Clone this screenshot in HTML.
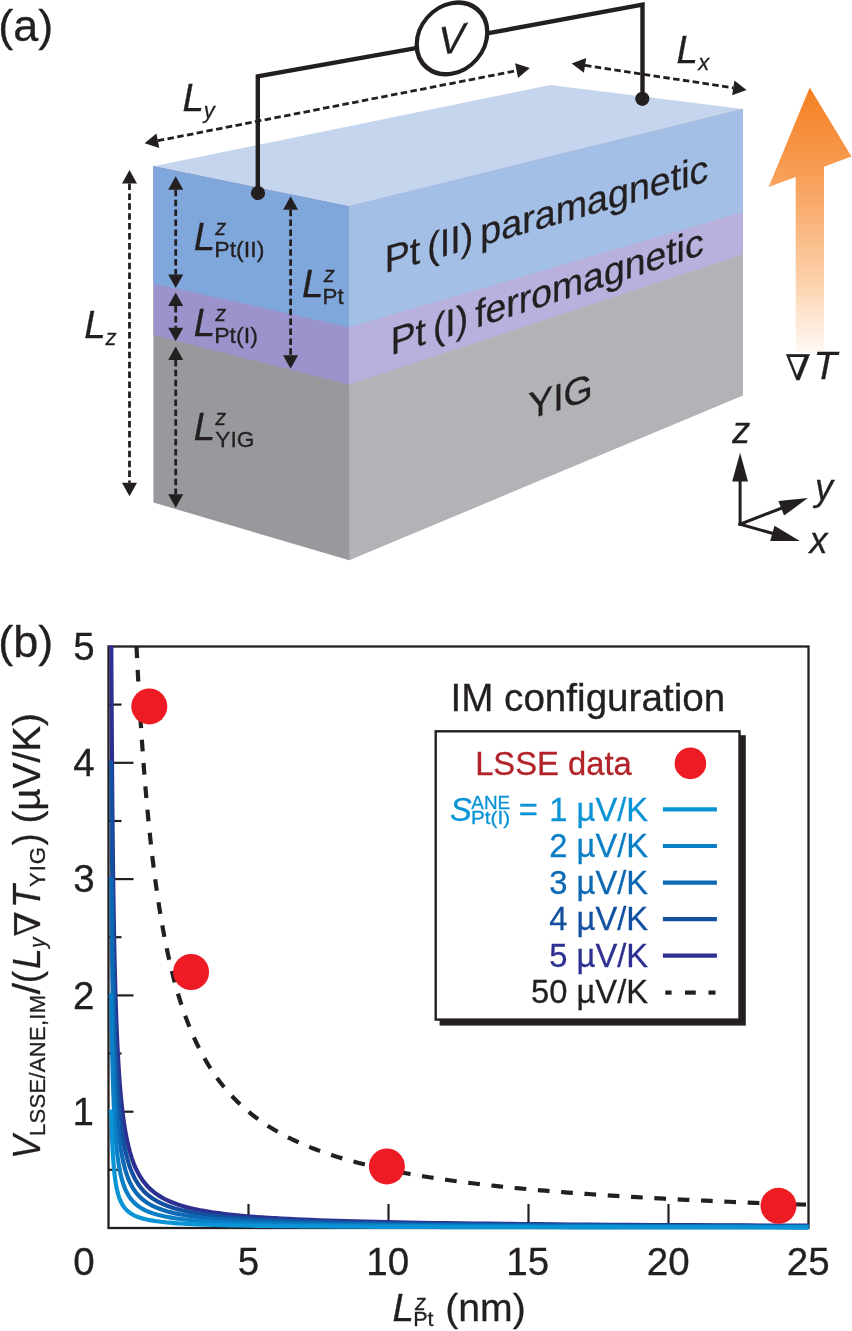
<!DOCTYPE html>
<html><head><meta charset="utf-8"><title>Figure</title>
<style>html,body{margin:0;padding:0;background:#fff}svg{display:block}text{stroke:#231f20;stroke-width:.3px}</style></head>
<body>
<svg width="852" height="1331" viewBox="0 0 852 1331" font-family="Liberation Sans, sans-serif" fill="#231f20">
<defs><linearGradient id="og" x1="0" y1="87" x2="0" y2="352" gradientUnits="userSpaceOnUse"><stop offset="0" stop-color="#f47f20"/><stop offset="0.35" stop-color="#f8a05a"/><stop offset="0.72" stop-color="#fccfa8"/><stop offset="1" stop-color="#fffaf6"/></linearGradient><clipPath id="pc"><rect x="108.5" y="645.5" width="702" height="586"/></clipPath></defs>
<rect width="852" height="1331" fill="#fff"/>
<polygon points="153.4,166.3 550.2,85.0 743.0,108.9 743.0,109.9 349.0,207.3 153.4,167.3" fill="#c5d5ee" />
<polygon points="153.4,166.3 349.8,206.5 350.1,560.0 349.3,560.3 153.4,502.5" fill="#98999c" />
<polygon points="153.4,166.3 349.8,206.5 349.8,384.3 349.0,384.5 153.4,335.0" fill="#9b94cc" />
<polygon points="153.4,166.3 349.8,206.5 349.8,327.0 349.0,327.2 153.4,283.4" fill="#7fa7db" />
<polygon points="349.0,206.3 743.0,108.9 743.0,395.5 349.3,560.3" fill="#b2b3b6" />
<polygon points="349.0,206.3 743.0,108.9 743.0,254.6 349.0,384.5" fill="#b8b1dd" />
<polygon points="349.0,206.3 743.0,108.9 743.0,212.0 349.0,327.2" fill="#a4bfe5" />
<path d="M257.8,193 L257.8,76.3 L416,48.2" fill="none" stroke="#231f20" stroke-width="4.4" stroke-linejoin="miter"/>
<path d="M642.5,98.6 L642.5,4.6 L488.5,33.2" fill="none" stroke="#231f20" stroke-width="4.4" stroke-linejoin="miter"/>
<circle cx="258" cy="193" r="7.1"/>
<circle cx="642.3" cy="98.8" r="7.1"/>
<g transform="translate(452,38.4) skewY(-10)"><circle r="35.3" fill="#fff" stroke="#231f20" stroke-width="4.3"/><text x="-0.3" y="14.6" font-size="40" font-style="italic" text-anchor="middle">V</text></g>
<polygon points="529.8,68.1 518.0,78.0 515.1,63.3" fill="#231f20" />
<polygon points="144.6,143.3 156.4,133.4 159.3,148.1" fill="#231f20" />
<line x1="157.8" y1="140.7" x2="516.6" y2="70.7" stroke="#231f20" stroke-width="2.8" stroke-dasharray="6.5 3.4"/>
<polygon points="746.6,89.9 732.1,95.3 734.4,80.5" fill="#231f20" />
<polygon points="571.7,63.4 586.2,58.0 583.9,72.8" fill="#231f20" />
<line x1="585.0" y1="65.4" x2="733.3" y2="87.9" stroke="#231f20" stroke-width="2.8" stroke-dasharray="6.5 3.4"/>
<polygon points="129.5,496.2 122.0,482.7 137.0,482.7" fill="#231f20" />
<polygon points="129.5,170.0 137.0,183.5 122.0,183.5" fill="#231f20" />
<line x1="129.5" y1="183.5" x2="129.5" y2="482.7" stroke="#231f20" stroke-width="2.8" stroke-dasharray="6.5 3.4"/>
<polygon points="175.7,288.0 168.2,274.5 183.2,274.5" fill="#231f20" />
<polygon points="175.7,176.3 183.2,189.8 168.2,189.8" fill="#231f20" />
<line x1="175.7" y1="189.8" x2="175.7" y2="274.5" stroke="#231f20" stroke-width="2.8" stroke-dasharray="6.5 3.4"/>
<polygon points="175.7,341.3 168.2,327.8 183.2,327.8" fill="#231f20" />
<polygon points="175.7,292.5 183.2,306.0 168.2,306.0" fill="#231f20" />
<line x1="175.7" y1="306.0" x2="175.7" y2="327.8" stroke="#231f20" stroke-width="2.8" stroke-dasharray="6.5 3.4"/>
<polygon points="175.7,507.7 168.2,494.2 183.2,494.2" fill="#231f20" />
<polygon points="175.7,346.4 183.2,359.9 168.2,359.9" fill="#231f20" />
<line x1="175.7" y1="359.9" x2="175.7" y2="494.2" stroke="#231f20" stroke-width="2.8" stroke-dasharray="6.5 3.4"/>
<polygon points="290.6,368.7 283.1,355.2 298.1,355.2" fill="#231f20" />
<polygon points="290.6,196.2 298.1,209.7 283.1,209.7" fill="#231f20" />
<line x1="290.6" y1="209.7" x2="290.6" y2="355.2" stroke="#231f20" stroke-width="2.8" stroke-dasharray="6.5 3.4"/>
<text x="-1.65" y="41.30" font-size="45">(a)</text>
<text x="-1.65" y="656.60" font-size="45">(b)</text>
<text x="193.65" y="249.90" font-size="38.5" font-style="italic">L</text>
<text x="215.30" y="234.80" font-size="22" font-style="italic">z</text>
<text transform="translate(214.15,257.10) scale(1.0562,1)" font-size="22">Pt(II)</text>
<text x="193.65" y="335.70" font-size="38.5" font-style="italic">L</text>
<text x="215.30" y="320.60" font-size="22" font-style="italic">z</text>
<text transform="translate(214.15,342.90) scale(1.0545,1)" font-size="22">Pt(I)</text>
<text x="193.65" y="439.60" font-size="38.5" font-style="italic">L</text>
<text x="215.30" y="424.50" font-size="22" font-style="italic">z</text>
<text transform="translate(215.22,446.80) scale(1.0366,1)" font-size="22">YIG</text>
<text x="302.05" y="297.20" font-size="38.5" font-style="italic">L</text>
<text x="323.70" y="282.10" font-size="22" font-style="italic">z</text>
<text transform="translate(322.62,304.40) scale(1.0158,1)" font-size="22">Pt</text>
<text x="182.55" y="110.50" font-size="38.5" font-style="italic">L</text>
<text x="203.75" y="117.60" font-size="22" font-style="italic">y</text>
<text x="676.45" y="63.40" font-size="38.5" font-style="italic">L</text>
<text x="698.35" y="70.40" font-size="22" font-style="italic">x</text>
<text x="84.25" y="338.10" font-size="38.5" font-style="italic">L</text>
<text x="105.50" y="345.10" font-size="22" font-style="italic">z</text>
<g transform="translate(387.9,272.3) skewY(-15.9)">
<text transform="translate(-3.18,0.00) scale(0.9781,1)" font-size="38.5" word-spacing="-3.5">Pt (II) paramagnetic</text>
</g>
<g transform="translate(393.8,354.3) skewY(-17.9)">
<text transform="translate(-3.16,0.00) scale(0.9709,1)" font-size="38.5" word-spacing="-3.5">Pt (I) ferromagnetic</text>
</g>
<g transform="translate(529.1,419.5) skewY(-17.5)">
<text transform="translate(-0.99,0.00) scale(0.9886,1)" font-size="38">YIG</text>
</g>
<polygon points="809.7,87.6 851.5,156.6 824.0,166.7 824.0,352.0 795.7,352.0 795.7,177.0 768.7,186.9" fill="url(#og)" />
<text transform="translate(785.16,379.50) scale(1.0356,1)" font-size="35.5" font-family="DejaVu Serif, serif">∇</text>
<text x="813.40" y="378.90" font-size="38.5" font-style="italic">T</text>
<polygon points="740.1,452.8 748.0,481.4 732.2,481.4" fill="#231f20" />
<line x1="740.1" y1="524.2" x2="740.1" y2="481.4" stroke="#231f20" stroke-width="3" stroke-linecap="square"/>
<polygon points="807.9,498.0 784.1,515.6 778.4,501.0" fill="#231f20" />
<line x1="740.1" y1="524.2" x2="781.2" y2="508.3" stroke="#231f20" stroke-width="3" stroke-linecap="square"/>
<polygon points="799.9,541.1 770.2,540.9 774.5,525.8" fill="#231f20" />
<line x1="740.1" y1="524.2" x2="772.4" y2="533.3" stroke="#231f20" stroke-width="3" stroke-linecap="square"/>
<text x="732.25" y="443.40" font-size="36" font-style="italic">z</text>
<text x="815.00" y="500.00" font-size="36" font-style="italic">y</text>
<text x="809.45" y="552.60" font-size="36" font-style="italic">x</text>
<rect x="108.5" y="646.5" width="700.0" height="581.5" fill="none" stroke="#231f20" stroke-width="2.3"/>
<line x1="108.5" y1="1169.8" x2="121.5" y2="1169.8" stroke="#231f20" stroke-width="2.2"/>
<line x1="108.5" y1="1111.7" x2="133.5" y2="1111.7" stroke="#231f20" stroke-width="2.2"/>
<line x1="108.5" y1="1053.5" x2="121.5" y2="1053.5" stroke="#231f20" stroke-width="2.2"/>
<line x1="108.5" y1="995.4" x2="133.5" y2="995.4" stroke="#231f20" stroke-width="2.2"/>
<line x1="108.5" y1="937.2" x2="121.5" y2="937.2" stroke="#231f20" stroke-width="2.2"/>
<line x1="108.5" y1="879.1" x2="133.5" y2="879.1" stroke="#231f20" stroke-width="2.2"/>
<line x1="108.5" y1="821.0" x2="121.5" y2="821.0" stroke="#231f20" stroke-width="2.2"/>
<line x1="108.5" y1="762.8" x2="133.5" y2="762.8" stroke="#231f20" stroke-width="2.2"/>
<line x1="108.5" y1="704.6" x2="121.5" y2="704.6" stroke="#231f20" stroke-width="2.2"/>
<line x1="248.5" y1="1228.0" x2="248.5" y2="1204.0" stroke="#231f20" stroke-width="2.2"/>
<line x1="388.5" y1="1228.0" x2="388.5" y2="1204.0" stroke="#231f20" stroke-width="2.2"/>
<line x1="528.5" y1="1228.0" x2="528.5" y2="1204.0" stroke="#231f20" stroke-width="2.2"/>
<line x1="668.5" y1="1228.0" x2="668.5" y2="1204.0" stroke="#231f20" stroke-width="2.2"/>
<text x="72.55" y="1125.00" font-size="38.5">1</text>
<text x="73.05" y="1008.70" font-size="38.5">2</text>
<text x="73.17" y="892.40" font-size="38.5">3</text>
<text x="73.17" y="776.10" font-size="38.5">4</text>
<text x="73.17" y="659.80" font-size="38.5">5</text>
<text x="73.25" y="1274.60" font-size="38.5">0</text>
<text x="237.78" y="1274.60" font-size="38.5">5</text>
<text x="366.27" y="1274.60" font-size="38.5">10</text>
<text x="506.27" y="1274.60" font-size="38.5">15</text>
<text x="646.77" y="1274.60" font-size="38.5">20</text>
<text x="786.77" y="1274.60" font-size="38.5">25</text>
<g clip-path="url(#pc)" fill="none" stroke-linejoin="round">
<polyline points="108.50,646.50 111.30,646.50 111.47,679.42 111.64,709.91 111.82,738.23 112.01,764.58 112.21,789.13 112.41,812.04 112.63,833.47 112.85,853.53 113.08,872.34 113.32,889.99 113.57,906.58 113.82,922.20 114.09,936.90 114.37,950.77 114.66,963.85 114.97,976.21 115.28,987.89 115.61,998.95 115.95,1009.41 116.30,1019.33 116.67,1028.73 117.05,1037.65 117.45,1046.11 117.87,1054.16 118.30,1061.80 118.74,1069.06 119.21,1075.98 119.69,1082.55 120.20,1088.82 120.72,1094.78 121.27,1100.47 121.83,1105.89 122.42,1111.06 123.04,1115.99 123.67,1120.70 124.34,1125.19 125.03,1129.48 125.74,1133.57 126.49,1137.49 127.26,1141.23 128.07,1144.80 128.91,1148.22 129.78,1151.49 130.69,1154.62 131.63,1157.62 132.61,1160.48 133.63,1163.22 134.70,1165.85 135.80,1168.36 136.95,1170.77 138.14,1173.07 139.38,1175.28 140.68,1177.40 142.02,1179.42 143.41,1181.37 144.87,1183.23 146.38,1185.01 147.95,1186.73 149.58,1188.37 151.28,1189.94 153.05,1191.45 154.89,1192.90 156.80,1194.29 158.79,1195.62 160.85,1196.90 163.00,1198.13 165.24,1199.30 167.57,1200.43 169.99,1201.52 172.50,1202.56 175.12,1203.56 177.84,1204.52 180.67,1205.44 183.61,1206.32 186.67,1207.17 189.85,1207.99 193.16,1208.77 196.61,1209.52 200.19,1210.24 203.91,1210.93 207.78,1211.60 211.81,1212.24 216.00,1212.85 220.35,1213.44 224.88,1214.01 229.59,1214.55 234.49,1215.08 239.59,1215.58 244.89,1216.06 250.40,1216.53 256.13,1216.97 262.09,1217.40 268.29,1217.81 274.74,1218.21 281.45,1218.59 288.42,1218.95 295.67,1219.30 303.22,1219.64 311.06,1219.96 319.22,1220.27 327.71,1220.57 336.53,1220.86 345.71,1221.14 355.25,1221.40 365.18,1221.66 375.50,1221.90 386.24,1222.14 397.40,1222.36 409.01,1222.58 421.09,1222.79 433.65,1222.99 446.71,1223.19 460.30,1223.37 474.42,1223.55 489.12,1223.72 504.40,1223.89 520.29,1224.05 536.82,1224.20 554.01,1224.35 571.88,1224.49 590.47,1224.62 609.81,1224.75 629.92,1224.88 650.83,1225.00 672.58,1225.11 695.20,1225.22 718.72,1225.33 743.19,1225.43 768.63,1225.53 795.09,1225.63 808.50,1225.67" stroke="#2e3091" stroke-width="4.2"/>
<polyline points="108.50,762.80 111.30,762.80 111.47,789.13 111.64,813.53 111.82,836.19 112.01,857.26 112.21,876.90 112.41,895.23 112.63,912.37 112.85,928.42 113.08,943.47 113.32,957.59 113.57,970.87 113.82,983.36 114.09,995.12 114.37,1006.21 114.66,1016.68 114.97,1026.57 115.28,1035.92 115.61,1044.76 115.95,1053.13 116.30,1061.06 116.67,1068.58 117.05,1075.72 117.45,1082.49 117.87,1088.92 118.30,1095.04 118.74,1100.85 119.21,1106.38 119.69,1111.64 120.20,1116.65 120.72,1121.43 121.27,1125.98 121.83,1130.31 122.42,1134.45 123.04,1138.39 123.67,1142.16 124.34,1145.75 125.03,1149.18 125.74,1152.46 126.49,1155.59 127.26,1158.58 128.07,1161.44 128.91,1164.18 129.78,1166.80 130.69,1169.30 131.63,1171.69 132.61,1173.98 133.63,1176.18 134.70,1178.28 135.80,1180.29 136.95,1182.21 138.14,1184.06 139.38,1185.82 140.68,1187.52 142.02,1189.14 143.41,1190.69 144.87,1192.18 146.38,1193.61 147.95,1194.98 149.58,1196.29 151.28,1197.55 153.05,1198.76 154.89,1199.92 156.80,1201.03 158.79,1202.10 160.85,1203.12 163.00,1204.10 165.24,1205.04 167.57,1205.95 169.99,1206.82 172.50,1207.65 175.12,1208.45 177.84,1209.21 180.67,1209.95 183.61,1210.66 186.67,1211.34 189.85,1211.99 193.16,1212.61 196.61,1213.22 200.19,1213.79 203.91,1214.35 207.78,1214.88 211.81,1215.39 216.00,1215.88 220.35,1216.35 224.88,1216.81 229.59,1217.24 234.49,1217.66 239.59,1218.06 244.89,1218.45 250.40,1218.82 256.13,1219.18 262.09,1219.52 268.29,1219.85 274.74,1220.16 281.45,1220.47 288.42,1220.76 295.67,1221.04 303.22,1221.31 311.06,1221.57 319.22,1221.82 327.71,1222.06 336.53,1222.29 345.71,1222.51 355.25,1222.72 365.18,1222.93 375.50,1223.12 386.24,1223.31 397.40,1223.49 409.01,1223.67 421.09,1223.83 433.65,1223.99 446.71,1224.15 460.30,1224.30 474.42,1224.44 489.12,1224.58 504.40,1224.71 520.29,1224.84 536.82,1224.96 554.01,1225.08 571.88,1225.19 590.47,1225.30 609.81,1225.40 629.92,1225.50 650.83,1225.60 672.58,1225.69 695.20,1225.78 718.72,1225.87 743.19,1225.95 768.63,1226.03 795.09,1226.10 808.50,1226.14" stroke="#13509f" stroke-width="4.2"/>
<polyline points="108.50,879.10 111.30,879.10 111.47,898.85 111.64,917.15 111.82,934.14 112.01,949.95 112.21,964.68 112.41,978.43 112.63,991.28 112.85,1003.32 113.08,1014.60 113.32,1025.19 113.57,1035.15 113.82,1044.52 114.09,1053.34 114.37,1061.66 114.66,1069.51 114.97,1076.93 115.28,1083.94 115.61,1090.57 115.95,1096.85 116.30,1102.80 116.67,1108.44 117.05,1113.79 117.45,1118.87 117.87,1123.69 118.30,1128.28 118.74,1132.64 119.21,1136.79 119.69,1140.73 120.20,1144.49 120.72,1148.07 121.27,1151.48 121.83,1154.73 122.42,1157.84 123.04,1160.79 123.67,1163.62 124.34,1166.31 125.03,1168.89 125.74,1171.34 126.49,1173.69 127.26,1175.94 128.07,1178.08 128.91,1180.13 129.78,1182.10 130.69,1183.97 131.63,1185.77 132.61,1187.49 133.63,1189.13 134.70,1190.71 135.80,1192.22 136.95,1193.66 138.14,1195.04 139.38,1196.37 140.68,1197.64 142.02,1198.85 143.41,1200.02 144.87,1201.14 146.38,1202.21 147.95,1203.24 149.58,1204.22 151.28,1205.17 153.05,1206.07 154.89,1206.94 156.80,1207.77 158.79,1208.57 160.85,1209.34 163.00,1210.08 165.24,1210.78 167.57,1211.46 169.99,1212.11 172.50,1212.74 175.12,1213.34 177.84,1213.91 180.67,1214.46 183.61,1214.99 186.67,1215.50 189.85,1215.99 193.16,1216.46 196.61,1216.91 200.19,1217.34 203.91,1217.76 207.78,1218.16 211.81,1218.54 216.00,1218.91 220.35,1219.27 224.88,1219.61 229.59,1219.93 234.49,1220.25 239.59,1220.55 244.89,1220.84 250.40,1221.12 256.13,1221.38 262.09,1221.64 268.29,1221.89 274.74,1222.12 281.45,1222.35 288.42,1222.57 295.67,1222.78 303.22,1222.98 311.06,1223.18 319.22,1223.36 327.71,1223.54 336.53,1223.72 345.71,1223.88 355.25,1224.04 365.18,1224.19 375.50,1224.34 386.24,1224.48 397.40,1224.62 409.01,1224.75 421.09,1224.87 433.65,1225.00 446.71,1225.11 460.30,1225.22 474.42,1225.33 489.12,1225.43 504.40,1225.53 520.29,1225.63 536.82,1225.72 554.01,1225.81 571.88,1225.89 590.47,1225.97 609.81,1226.05 629.92,1226.13 650.83,1226.20 672.58,1226.27 695.20,1226.33 718.72,1226.40 743.19,1226.46 768.63,1226.52 795.09,1226.58 808.50,1226.60" stroke="#0d69b3" stroke-width="4.2"/>
<polyline points="108.50,995.40 111.30,995.40 111.47,1008.57 111.64,1020.77 111.82,1032.09 112.01,1042.63 112.21,1052.45 112.41,1061.62 112.63,1070.19 112.85,1078.21 113.08,1085.73 113.32,1092.80 113.57,1099.43 113.82,1105.68 114.09,1111.56 114.37,1117.11 114.66,1122.34 114.97,1127.28 115.28,1131.96 115.61,1136.38 115.95,1140.57 116.30,1144.53 116.67,1148.29 117.05,1151.86 117.45,1155.25 117.87,1158.46 118.30,1161.52 118.74,1164.43 119.21,1167.19 119.69,1169.82 120.20,1172.33 120.72,1174.71 121.27,1176.99 121.83,1179.16 122.42,1181.22 123.04,1183.20 123.67,1185.08 124.34,1186.87 125.03,1188.59 125.74,1190.23 126.49,1191.80 127.26,1193.29 128.07,1194.72 128.91,1196.09 129.78,1197.40 130.69,1198.65 131.63,1199.85 132.61,1200.99 133.63,1202.09 134.70,1203.14 135.80,1204.14 136.95,1205.11 138.14,1206.03 139.38,1206.91 140.68,1207.76 142.02,1208.57 143.41,1209.35 144.87,1210.09 146.38,1210.81 147.95,1211.49 149.58,1212.15 151.28,1212.78 153.05,1213.38 154.89,1213.96 156.80,1214.52 158.79,1215.05 160.85,1215.56 163.00,1216.05 165.24,1216.52 167.57,1216.97 169.99,1217.41 172.50,1217.82 175.12,1218.22 177.84,1218.61 180.67,1218.98 183.61,1219.33 186.67,1219.67 189.85,1219.99 193.16,1220.31 196.61,1220.61 200.19,1220.90 203.91,1221.17 207.78,1221.44 211.81,1221.70 216.00,1221.94 220.35,1222.18 224.88,1222.40 229.59,1222.62 234.49,1222.83 239.59,1223.03 244.89,1223.22 250.40,1223.41 256.13,1223.59 262.09,1223.76 268.29,1223.92 274.74,1224.08 281.45,1224.23 288.42,1224.38 295.67,1224.52 303.22,1224.66 311.06,1224.78 319.22,1224.91 327.71,1225.03 336.53,1225.14 345.71,1225.25 355.25,1225.36 365.18,1225.46 375.50,1225.56 386.24,1225.66 397.40,1225.75 409.01,1225.83 421.09,1225.92 433.65,1226.00 446.71,1226.07 460.30,1226.15 474.42,1226.22 489.12,1226.29 504.40,1226.35 520.29,1226.42 536.82,1226.48 554.01,1226.54 571.88,1226.59 590.47,1226.65 609.81,1226.70 629.92,1226.75 650.83,1226.80 672.58,1226.85 695.20,1226.89 718.72,1226.93 743.19,1226.97 768.63,1227.01 795.09,1227.05 808.50,1227.07" stroke="#0b7fc5" stroke-width="4.2"/>
<polyline points="108.50,1111.70 111.30,1111.70 111.47,1118.28 111.64,1124.38 111.82,1130.05 112.01,1135.32 112.21,1140.23 112.41,1144.81 112.63,1149.09 112.85,1153.11 113.08,1156.87 113.32,1160.40 113.57,1163.72 113.82,1166.84 114.09,1169.78 114.37,1172.55 114.66,1175.17 114.97,1177.64 115.28,1179.98 115.61,1182.19 115.95,1184.28 116.30,1186.27 116.67,1188.15 117.05,1189.93 117.45,1191.62 117.87,1193.23 118.30,1194.76 118.74,1196.21 119.21,1197.60 119.69,1198.91 120.20,1200.16 120.72,1201.36 121.27,1202.49 121.83,1203.58 122.42,1204.61 123.04,1205.60 123.67,1206.54 124.34,1207.44 125.03,1208.30 125.74,1209.11 126.49,1209.90 127.26,1210.65 128.07,1211.36 128.91,1212.04 129.78,1212.70 130.69,1213.32 131.63,1213.92 132.61,1214.50 133.63,1215.04 134.70,1215.57 135.80,1216.07 136.95,1216.55 138.14,1217.01 139.38,1217.46 140.68,1217.88 142.02,1218.28 143.41,1218.67 144.87,1219.05 146.38,1219.40 147.95,1219.75 149.58,1220.07 151.28,1220.39 153.05,1220.69 154.89,1220.98 156.80,1221.26 158.79,1221.52 160.85,1221.78 163.00,1222.03 165.24,1222.26 167.57,1222.49 169.99,1222.70 172.50,1222.91 175.12,1223.11 177.84,1223.30 180.67,1223.49 183.61,1223.66 186.67,1223.83 189.85,1224.00 193.16,1224.15 196.61,1224.30 200.19,1224.45 203.91,1224.59 207.78,1224.72 211.81,1224.85 216.00,1224.97 220.35,1225.09 224.88,1225.20 229.59,1225.31 234.49,1225.42 239.59,1225.52 244.89,1225.61 250.40,1225.71 256.13,1225.79 262.09,1225.88 268.29,1225.96 274.74,1226.04 281.45,1226.12 288.42,1226.19 295.67,1226.26 303.22,1226.33 311.06,1226.39 319.22,1226.45 327.71,1226.51 336.53,1226.57 345.71,1226.63 355.25,1226.68 365.18,1226.73 375.50,1226.78 386.24,1226.83 397.40,1226.87 409.01,1226.92 421.09,1226.96 433.65,1227.00 446.71,1227.04 460.30,1227.07 474.42,1227.11 489.12,1227.14 504.40,1227.18 520.29,1227.21 536.82,1227.24 554.01,1227.27 571.88,1227.30 590.47,1227.32 609.81,1227.35 629.92,1227.38 650.83,1227.40 672.58,1227.42 695.20,1227.44 718.72,1227.47 743.19,1227.49 768.63,1227.51 795.09,1227.53 808.50,1227.53" stroke="#0a94d6" stroke-width="4.2"/>
<polyline points="136.50,646.50 136.84,653.40 137.18,660.20 137.52,666.90 137.86,673.52 138.21,680.04 138.57,686.48 138.92,692.83 139.28,699.09 139.65,705.27 140.02,711.36 140.39,717.38 140.76,723.31 141.14,729.16 141.52,734.94 141.91,740.64 142.30,746.26 142.69,751.82 143.09,757.29 143.49,762.70 143.90,768.04 144.31,773.30 144.72,778.50 145.14,783.63 145.56,788.69 145.99,793.69 146.42,798.63 146.86,803.50 147.30,808.31 147.74,813.06 148.19,817.75 148.64,822.38 149.10,826.95 149.56,831.46 150.03,835.91 150.50,840.31 150.97,844.66 151.45,848.95 151.94,853.19 152.43,857.37 152.93,861.50 153.43,865.58 153.93,869.61 154.44,873.59 154.96,877.53 155.48,881.41 156.00,885.25 156.53,889.03 157.07,892.78 157.61,896.48 158.16,900.13 158.71,903.74 159.27,907.30 159.83,910.82 160.40,914.30 160.98,917.74 161.56,921.14 162.15,924.49 162.74,927.81 163.34,931.08 163.94,934.32 164.55,937.52 165.17,940.68 165.79,943.80 166.42,946.89 167.05,949.94 167.70,952.95 168.34,955.93 169.00,958.87 169.66,961.78 170.33,964.65 171.00,967.49 171.68,970.30 172.37,973.08 173.07,975.82 173.77,978.53 174.48,981.21 175.19,983.86 175.91,986.48 176.64,989.07 177.38,991.62 178.13,994.15 178.88,996.65 179.64,999.12 180.41,1001.57 181.18,1003.98 181.96,1006.37 182.75,1008.73 183.55,1011.06 184.36,1013.37 185.17,1015.65 186.00,1017.90 186.83,1020.13 187.67,1022.33 188.51,1024.51 189.37,1026.67 190.24,1028.80 191.11,1030.90 191.99,1032.99 192.88,1035.04 193.78,1037.08 194.69,1039.09 195.61,1041.08 196.54,1043.05 197.47,1045.00 198.42,1046.92 199.37,1048.83 200.34,1050.71 201.31,1052.57 202.30,1054.41 203.29,1056.23 204.29,1058.03 205.31,1059.81 206.33,1061.57 207.37,1063.31 208.41,1065.03 209.47,1066.74 210.53,1068.42 211.61,1070.09 212.70,1071.74 213.79,1073.36 214.90,1074.98 216.02,1076.57 217.15,1078.15 218.30,1079.71 219.45,1081.25 220.62,1082.77 221.79,1084.28 222.98,1085.78 224.18,1087.25 225.39,1088.71 226.62,1090.16 227.86,1091.59 229.11,1093.00 230.37,1094.40 231.64,1095.78 232.93,1097.15 234.23,1098.50 235.54,1099.84 236.87,1101.16 238.21,1102.47 239.56,1103.77 240.93,1105.05 242.31,1106.32 243.70,1107.58 245.11,1108.82 246.53,1110.04 247.97,1111.26 249.42,1112.46 250.89,1113.65 252.37,1114.83 253.86,1115.99 255.37,1117.14 256.90,1118.28 258.44,1119.41 259.99,1120.52 261.56,1121.62 263.15,1122.72 264.75,1123.80 266.37,1124.86 268.00,1125.92 269.66,1126.97 271.32,1128.00 273.01,1129.03 274.71,1130.04 276.43,1131.04 278.16,1132.03 279.91,1133.01 281.68,1133.98 283.47,1134.95 285.28,1135.90 287.10,1136.84 288.94,1137.77 290.80,1138.69 292.68,1139.60 294.58,1140.50 296.50,1141.39 298.43,1142.28 300.39,1143.15 302.36,1144.01 304.36,1144.87 306.37,1145.72 308.41,1146.55 310.46,1147.38 312.54,1148.20 314.64,1149.01 316.75,1149.82 318.89,1150.61 321.05,1151.40 323.23,1152.18 325.44,1152.95 327.66,1153.71 329.91,1154.46 332.18,1155.21 334.47,1155.95 336.79,1156.68 339.13,1157.40 341.49,1158.12 343.87,1158.83 346.28,1159.53 348.72,1160.22 351.18,1160.91 353.66,1161.59 356.17,1162.26 358.70,1162.92 361.26,1163.58 363.84,1164.23 366.45,1164.88 369.09,1165.52 371.75,1166.15 374.44,1166.77 377.15,1167.39 379.89,1168.01 382.66,1168.61 385.46,1169.21 388.29,1169.81 391.14,1170.39 394.02,1170.97 396.93,1171.55 399.88,1172.12 402.84,1172.68 405.84,1173.24 408.87,1173.79 411.93,1174.34 415.02,1174.88 418.15,1175.42 421.30,1175.95 424.48,1176.47 427.70,1176.99 430.95,1177.50 434.23,1178.01 437.54,1178.52 440.89,1179.01 444.27,1179.51 447.68,1180.00 451.13,1180.48 454.61,1180.96 458.13,1181.43 461.68,1181.90 465.27,1182.36 468.89,1182.82 472.55,1183.28 476.25,1183.72 479.98,1184.17 483.75,1184.61 487.56,1185.05 491.41,1185.48 495.29,1185.90 499.21,1186.33 503.18,1186.75 507.18,1187.16 511.22,1187.57 515.31,1187.98 519.43,1188.38 523.60,1188.78 527.80,1189.17 532.05,1189.56 536.34,1189.94 540.68,1190.33 545.06,1190.70 549.48,1191.08 553.94,1191.45 558.45,1191.81 563.01,1192.18 567.61,1192.54 572.26,1192.89 576.95,1193.24 581.69,1193.59 586.48,1193.94 591.31,1194.28 596.20,1194.61 601.13,1194.95 606.11,1195.28 611.15,1195.61 616.23,1195.93 621.36,1196.25 626.55,1196.57 631.78,1196.88 637.07,1197.20 642.41,1197.50 647.81,1197.81 653.26,1198.11 658.76,1198.41 664.32,1198.71 669.93,1199.00 675.60,1199.29 681.33,1199.58 687.12,1199.86 692.96,1200.14 698.86,1200.42 704.82,1200.70 710.84,1200.97 716.92,1201.24 723.06,1201.51 729.26,1201.77 735.52,1202.03 741.85,1202.29 748.24,1202.55 754.69,1202.80 761.21,1203.05 767.79,1203.30 774.44,1203.55 781.16,1203.79 787.94,1204.04 794.79,1204.28 801.71,1204.51 808.50,1204.74" stroke="#231f20" stroke-width="4.2" stroke-dasharray="11.7 11.65"/>
</g>
<circle cx="149.3" cy="706.4" r="18" fill="#ed1c24"/>
<circle cx="191.1" cy="972.0" r="18" fill="#ed1c24"/>
<circle cx="386.9" cy="1166.4" r="18" fill="#ed1c24"/>
<circle cx="778.5" cy="1205.8" r="18" fill="#ed1c24"/>
<text transform="translate(450.49,710.50) scale(1.0030,1)" font-size="38.5">IM configuration</text>
<rect x="439.6" y="735.2" width="306.2" height="290.4" fill="#231f20"/>
<rect x="435.7" y="731.3" width="303.8" height="288.3" fill="#fff" stroke="#231f20" stroke-width="2.4"/>
<text transform="translate(475.15,775.00) scale(1.0013,1)" font-size="32.7" fill="#b2232a" style="stroke:#b2232a">LSSE data</text>
<circle cx="690.4" cy="763.4" r="15.8" fill="#ed1c24"/>
<text x="549.35" y="820.70" font-size="32.7" fill="#0a94d6" style="stroke:#0a94d6">1 µV/K</text>
<line x1="662.9" y1="809.4" x2="716.9" y2="809.4" stroke="#0a94d6" stroke-width="4.2"/>
<text x="549.35" y="857.30" font-size="32.7" fill="#0b7fc5" style="stroke:#0b7fc5">2 µV/K</text>
<line x1="662.9" y1="846.0" x2="716.9" y2="846.0" stroke="#0b7fc5" stroke-width="4.2"/>
<text x="549.35" y="893.90" font-size="32.7" fill="#0d69b3" style="stroke:#0d69b3">3 µV/K</text>
<line x1="662.9" y1="882.6" x2="716.9" y2="882.6" stroke="#0d69b3" stroke-width="4.2"/>
<text x="549.35" y="930.40" font-size="32.7" fill="#13509f" style="stroke:#13509f">4 µV/K</text>
<line x1="662.9" y1="919.1" x2="716.9" y2="919.1" stroke="#13509f" stroke-width="4.2"/>
<text x="549.35" y="966.90" font-size="32.7" fill="#2e3091" style="stroke:#2e3091">5 µV/K</text>
<line x1="662.9" y1="955.6" x2="716.9" y2="955.6" stroke="#2e3091" stroke-width="4.2"/>
<text x="531.10" y="1003.40" font-size="32.7">50 µV/K</text>
<line x1="665.3" y1="992.6" x2="671.6" y2="992.6" stroke="#231f20" stroke-width="4.2"/>
<line x1="685.0" y1="992.6" x2="695.8" y2="992.6" stroke="#231f20" stroke-width="4.2"/>
<line x1="708.5" y1="992.6" x2="715.5" y2="992.6" stroke="#231f20" stroke-width="4.2"/>
<text x="450.00" y="821.00" font-size="32.7" font-style="italic" fill="#0a94d6" style="stroke:#0a94d6">S</text>
<text transform="translate(471.30,808.70) scale(0.9935,1)" font-size="19" fill="#0a94d6" style="stroke:#0a94d6">ANE</text>
<text transform="translate(470.96,824.40) scale(1.0917,1)" font-size="19" fill="#0a94d6" style="stroke:#0a94d6">Pt(I)</text>
<text x="518.80" y="820.70" font-size="32.7" fill="#0a94d6" style="stroke:#0a94d6">=</text>
<text x="392.55" y="1321.00" font-size="38.5" font-style="italic">L</text>
<text x="414.90" y="1310.20" font-size="22" font-style="italic">z</text>
<text transform="translate(413.21,1325.60) scale(1.0222,1)" font-size="21">Pt</text>
<text transform="translate(445.25,1321.00) scale(1.0182,1)" font-size="38.5">(nm)</text>
<g transform="translate(39.9,1160) rotate(-90)">
<text transform="translate(0.91,0.0) scale(0.9188,1)" font-size="38.5" font-style="italic">V</text>
<text transform="translate(24.04,4.9) scale(1.0029,1)" font-size="22" letter-spacing="0.25">LSSE/ANE,IM</text>
<text transform="translate(165.70,0.0) scale(1.0476,1)" font-size="38.5">/</text>
<text transform="translate(176.70,0.0) scale(0.9600,1)" font-size="38.5">(</text>
<text transform="translate(190.89,0.0) scale(0.9714,1)" font-size="38.5" font-style="italic">L</text>
<text transform="translate(212.16,4.9) scale(0.9283,1)" font-size="22" font-style="italic">y</text>
<text transform="translate(223.36,0.0) scale(1.0400,1)" font-size="35.5" font-family="DejaVu Serif, serif">∇</text>
<text transform="translate(251.87,0.0) scale(0.9798,1)" font-size="38.5" font-style="italic">T</text>
<text transform="translate(273.04,4.9) scale(1.0108,1)" font-size="22" letter-spacing="0.8">YIG</text>
<text transform="translate(314.77,0.0) scale(0.9171,1)" font-size="38.5">)</text>
<text transform="translate(336.39,0.0) scale(1.0057,1)" font-size="38.5">(µV/K)</text>
</g>
</svg>
</body></html>
